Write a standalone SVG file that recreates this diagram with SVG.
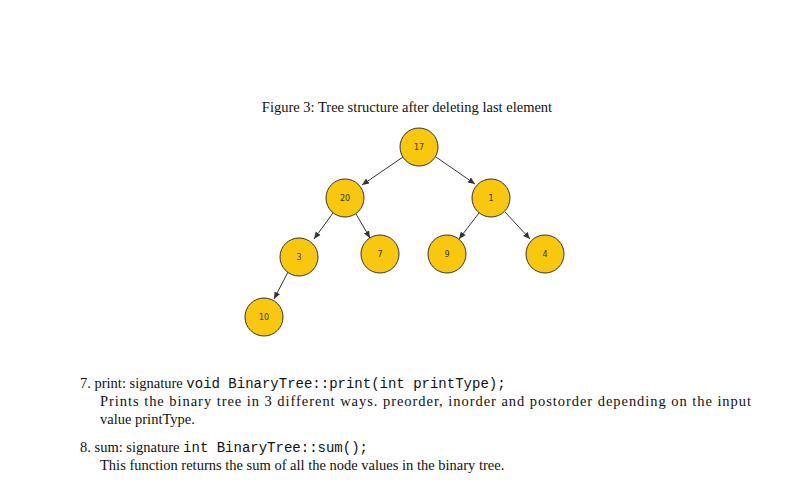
<svg xmlns="http://www.w3.org/2000/svg" width="797" height="500" viewBox="0 0 797 500">
<style>
.n circle{fill:#f9c80e;stroke:#333;stroke-width:1}
.n text{font-family:"DejaVu Sans",sans-serif;font-size:8px;text-anchor:middle;fill:#333}
.t{font-family:"Liberation Serif",serif;font-size:14.5px;fill:#111}
.m{font-family:"Liberation Mono",monospace;font-size:14px}
#edges line{stroke:#333;stroke-width:1;marker-end:url(#a)}
</style>
<defs><marker id="a" markerWidth="8" markerHeight="8" refX="7" refY="4" orient="auto" markerUnits="userSpaceOnUse"><path d="M0,1L7,4L0,7z" fill="#333"/></marker></defs>
<rect width="797" height="500" fill="#fff"/>
<text class="t" x="407" y="112" text-anchor="middle">Figure 3: Tree structure after deleting last element</text>
<g id="edges">
<line x1="403" y1="157" x2="362" y2="185"/>
<line x1="436" y1="157" x2="475" y2="184"/>
<line x1="333" y1="213" x2="314" y2="239"/>
<line x1="356" y1="214" x2="370" y2="238"/>
<line x1="479" y1="213" x2="459" y2="239"/>
<line x1="505" y1="212" x2="530" y2="239"/>
<line x1="288" y1="272" x2="274" y2="299"/>
</g>
<g id="n17" class="n"><circle cx="419" cy="147" r="19"/><text x="419" y="150">17</text></g>
<g id="n20" class="n"><circle cx="345" cy="198" r="19"/><text x="345" y="201">20</text></g>
<g id="n1" class="n"><circle cx="491" cy="198" r="19"/><text x="491" y="201">1</text></g>
<g id="n3" class="n"><circle cx="299" cy="257" r="19"/><text x="299" y="260">3</text></g>
<g id="n7" class="n"><circle cx="380" cy="254" r="19"/><text x="380" y="257">7</text></g>
<g id="n9" class="n"><circle cx="447" cy="254" r="19"/><text x="447" y="257">9</text></g>
<g id="n4" class="n"><circle cx="545" cy="254" r="19"/><text x="545" y="257">4</text></g>
<g id="n10" class="n"><circle cx="264" cy="317" r="19"/><text x="264" y="320">10</text></g>
<text class="t" x="80" y="388">7. print: signature <tspan class="m">void BinaryTree::print(int printType);</tspan></text>
<text class="t" x="100" y="406" textLength="651" lengthAdjust="spacing">Prints the binary tree in 3 different ways. preorder, inorder and postorder depending on the input</text>
<text class="t" x="100" y="424">value printType.</text>
<text class="t" x="80" y="452">8. sum: signature <tspan class="m">int BinaryTree::sum();</tspan></text>
<text class="t" x="100" y="470">This function returns the sum of all the node values in the binary tree.</text>
</svg>
